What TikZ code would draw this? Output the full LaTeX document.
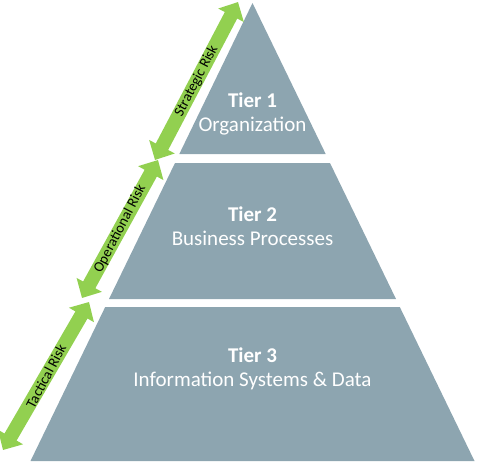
\documentclass[tikz,border=0pt]{standalone}
\usepackage{fontspec}
\setmainfont{Carlito}
\usetikzlibrary{arrows.meta,calc}
\definecolor{tiergray}{RGB}{141,165,176}
\definecolor{riskgreen}{RGB}{146,208,80}
\tikzset{
  tier/.style={fill=tiergray, draw=none},
  tiertext/.style={text=white, font=\fontsize{21}{24.5}\selectfont, align=center},
  riskarrow/.style={draw=riskgreen, line width=14pt,
     {Triangle[width=28pt,length=15pt]}-{Triangle[width=28pt,length=15pt]}},
  risklabel/.style={font=\fontsize{14.5}{16}\selectfont, text=black, rotate=62.5, inner sep=0pt}
}
\begin{document}
\begin{tikzpicture}[x=1pt,y=-1pt]
\useasboundingbox (0,0) rectangle (477,461);
% tiers
\fill[tier] (252.5,3) -- (325.7,154) -- (179.3,154) -- cycle;
\fill[tier] (175.0,163) -- (330.0,163) -- (396.0,299) -- (109.0,299) -- cycle;
\fill[tier] (105.2,307) -- (399.8,307) -- (474.5,461) -- (30.5,461) -- cycle;
% tier texts
\node[tiertext] (t1) at (252.5,114) {\textbf{Tier 1}\\Organization};
\node[tiertext] (t2) at (252.5,226) {\textbf{Tier 2}\\Business Processes};
\node[tiertext] (t3) at (252.5,369) {\textbf{Tier 3}\\Information Systems \& Data};
% arrows
\coordinate (s1) at (155,160);
\coordinate (s2) at (238,2);
\coordinate (o1) at (82,298);
\coordinate (o2) at (158,160);
\coordinate (a1) at (3,450);
\coordinate (a2) at (89,302);
\draw[riskarrow] (s1) -- (s2);
\draw[riskarrow] (o1) -- (o2);
\draw[riskarrow] (a1) -- (a2);
\node[risklabel] (ls) at ($(s1)!0.5!(s2)$) {Strategic Risk};
\node[risklabel] (lo) at ($(o1)!0.5!(o2)$) {Operational Risk};
\node[risklabel] (la) at ($(a1)!0.5!(a2)$) {Tactical Risk};
\end{tikzpicture}
\end{document}
